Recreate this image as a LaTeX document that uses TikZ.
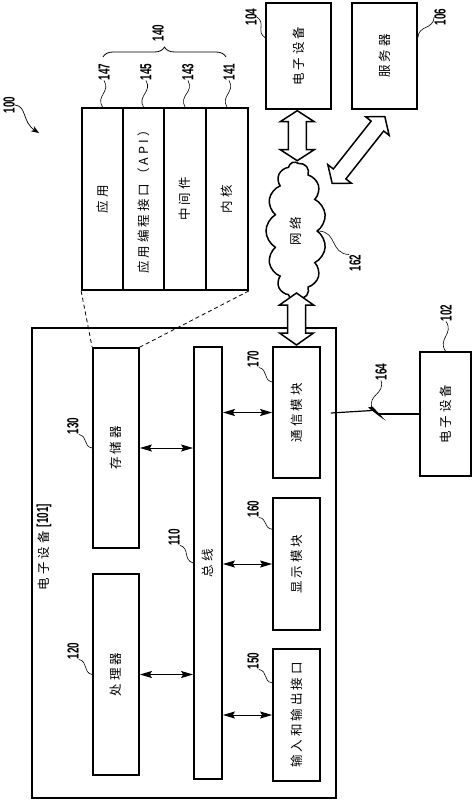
\documentclass[tikz,border=0pt]{standalone}
\usepackage{fontspec}
\usepackage{graphicx}
\usetikzlibrary{arrows.meta,shapes.symbols,calc,decorations.pathreplacing}
\newfontfamily\cjkfont[LetterSpace=24]{Noto Sans CJK SC}
\newfontfamily\numfont{Liberation Sans}
\newcommand{\cntext}[1]{\rotatebox{90}{\cjkfont\fontsize{12.5}{12.5}\selectfont #1}}
\newcommand{\numlbl}[1]{\rotatebox{90}{\scalebox{0.62}[1]{\numfont\bfseries\fontsize{16}{16}\selectfont #1}}}
\tikzset{
  box/.style={draw,line width=1.8pt,inner sep=0pt},
  lbl/.style={inner sep=0pt},
  leader/.style={line width=0.6pt, to path={.. controls ($(\tikztostart)!0.5!35:(\tikztotarget)$) and ($(\tikztotarget)!0.5!35:(\tikztostart)$) .. (\tikztotarget)}},
  busarrow/.style={line width=1pt,{Stealth[length=12pt,width=7pt,inset=2pt]}-{Stealth[length=12pt,width=7pt,inset=2pt]}},
  pics/dblarrow/.style n args={4}{code={
    \draw[line width=1.5pt,fill=white,line join=miter]
      (-#1,0) -- (-#1+#4,-#2) -- (-#1+#4,-#3) -- (#1-#4,-#3) -- (#1-#4,-#2) -- (#1,0)
      -- (#1-#4,#2) -- (#1-#4,#3) -- (-#1+#4,#3) -- (-#1+#4,#2) -- cycle;}},
}
\begin{document}
\begin{tikzpicture}[x=1pt,y=-1pt]
\useasboundingbox (0,0) rectangle (474,801);
\fill[white] (0,0) rectangle (474,801);

% outer device 101
\node[box,minimum width=304pt,minimum height=470pt] (dev101) at (184,563) {};
\node[lbl] (l101) at (44,547) {\rotatebox{90}{\cjkfont\fontsize{12.5}{12.5}\selectfont 电子设备\hspace{4pt}\scalebox{0.62}[1]{\numfont\bfseries\fontsize{16}{16}\selectfont [101]}}};

% inner boxes
\node[box,minimum width=46pt,minimum height=200pt] (mem130) at (116,448) {\cntext{存储器}};
\node[box,minimum width=46pt,minimum height=201pt] (proc120) at (116,674.5) {\cntext{处理器}};
\node[box,minimum width=28pt,minimum height=432pt] (bus110) at (208,563) {\cntext{总线}};
\node[box,minimum width=47pt,minimum height=131pt] (comm170) at (296.5,412.5) {\cntext{通信模块}};
\node[box,minimum width=47pt,minimum height=132pt] (disp160) at (296.5,564) {\cntext{显示模块}};
\node[box,minimum width=47pt,minimum height=132pt] (io150) at (296.5,715) {\cntext{输入和输出接口}};

% external boxes
\node[box,minimum width=51pt,minimum height=124pt] (dev102) at (445.5,414) {\cntext{电子设备}};
\node[box,minimum width=65pt,minimum height=106pt] (dev104) at (298.5,56) {\cntext{电子设备}};
\node[box,minimum width=65pt,minimum height=106pt] (srv106) at (384.5,56) {\cntext{服务器}};

% stack 140
\node[box,minimum width=41pt,minimum height=182pt] (app147) at (102.5,199) {\cntext{应用}};
\node[box,minimum width=41pt,minimum height=182pt] (api145) at (143.5,199) {\cntext{应用编程接口（API）}};
\node[box,minimum width=42pt,minimum height=182pt] (mid143) at (185,199) {\cntext{中间件}};
\node[box,minimum width=42pt,minimum height=182pt] (kern141) at (227,199) {\cntext{内核}};

\draw[dashed,line width=0.8pt,dash pattern=on 4pt off 3pt] (app147.south west) -- (mem130.north west);
\draw[dashed,line width=0.8pt,dash pattern=on 4pt off 3pt] (kern141.south east) -- (mem130.north east);

% network cloud
\node[cloud,draw,line width=1.5pt,cloud puffs=13,cloud puff arc=120,aspect=2.3,minimum width=138pt,minimum height=60pt,inner sep=0pt,rotate=90] (net162) at (296,231) {\cjkfont\fontsize{12.5}{12.5}\selectfont 网络};

% block arrows
\pic[rotate=90] (ba1) at ($(dev104.south)!0.5!(net162.east)$) {dblarrow={25}{17}{9}{11}};
\pic[rotate=90] (ba2) at (296.5,319) {dblarrow={26}{17}{9}{12}};
\pic[rotate=51.7] (ba3) at (358.5,150) {dblarrow={42.5}{15}{8}{12}};

% bus arrows
\draw[busarrow] (mem130.east) -- (mem130.east -| bus110.west);
\draw[busarrow] (proc120.east) -- (proc120.east -| bus110.west);
\draw[busarrow] (comm170.west -| bus110.east) -- (comm170.west);
\draw[busarrow] (disp160.west -| bus110.east) -- (disp160.west);
\draw[busarrow] (io150.west -| bus110.east) -- (io150.west);

% wireless link 164
\coordinate (z164) at (372,408);
\draw[line width=1.2pt] ($(comm170.east)+(10,0.5)$) -- (372,410.5);
\fill (368,407.5) -- (372.5,406.5) -- (385.5,420.5) -- (379,416) -- cycle;
\draw[line width=1.2pt] (378,414) -- (dev102.west);

% labels
\node[lbl] (l100) at (9,105) {\numlbl{100}};
\node[lbl] (l140) at (158,33) {\numlbl{140}};
\node[lbl] (l147) at (104,72) {\numlbl{147}};
\node[lbl] (l145) at (146,72) {\numlbl{145}};
\node[lbl] (l143) at (188,72) {\numlbl{143}};
\node[lbl] (l141) at (229,72) {\numlbl{141}};
\node[lbl] (l104) at (251,17) {\numlbl{104}};
\node[lbl] (l106) at (440,17) {\numlbl{106}};
\node[lbl] (l162) at (355,263) {\numlbl{162}};
\node[lbl] (l130) at (73,426) {\numlbl{130}};
\node[lbl] (l120) at (73,651) {\numlbl{120}};
\node[lbl] (l110) at (174,537) {\numlbl{110}};
\node[lbl] (l170) at (253,359) {\numlbl{170}};
\node[lbl] (l160) at (253,509) {\numlbl{160}};
\node[lbl] (l150) at (253,661) {\numlbl{150}};
\node[lbl] (l102) at (446,313) {\numlbl{102}};
\node[lbl] (l164) at (381,372) {\numlbl{164}};

% brace 140
\draw[line width=0.8pt,decorate,decoration={brace,amplitude=10pt}] (103,57) -- (226,57);

% leaders
\draw[leader] (l147.south) to (app147.north);
\draw[leader] (l145.south) to (api145.north);
\draw[leader] (l143.south) to (mid143.north);
\draw[leader] (l141.south) to (kern141.north);
\draw[leader] (l104.east) to ($(dev104.north west)!0.33!(dev104.south west)$);
\draw[leader] (l106.west) to ($(srv106.north east)!0.33!(srv106.south east)$);
\draw[leader] (net162.south) to (l162.north west);
\draw[leader] (l130.south east) to (mem130.west);
\draw[leader] (l120.south east) to (proc120.west);
\draw[leader] (l110.south east) to (bus110.west);
\draw[leader] (l170.south east) to ($(comm170.north west)!0.27!(comm170.south west)$);
\draw[leader] (l160.south east) to ($(disp160.north west)!0.24!(disp160.south west)$);
\draw[leader] (l150.south east) to ($(io150.north west)!0.26!(io150.south west)$);
\draw[leader] (l102.south) to (dev102.north);
\draw[leader] (l164.south) to (z164);
\draw[line width=0.7pt,-{Stealth[length=8pt,width=6pt]}] (l100.east) .. controls (27,106) and (22,122) .. (39,133);
\end{tikzpicture}
\end{document}
